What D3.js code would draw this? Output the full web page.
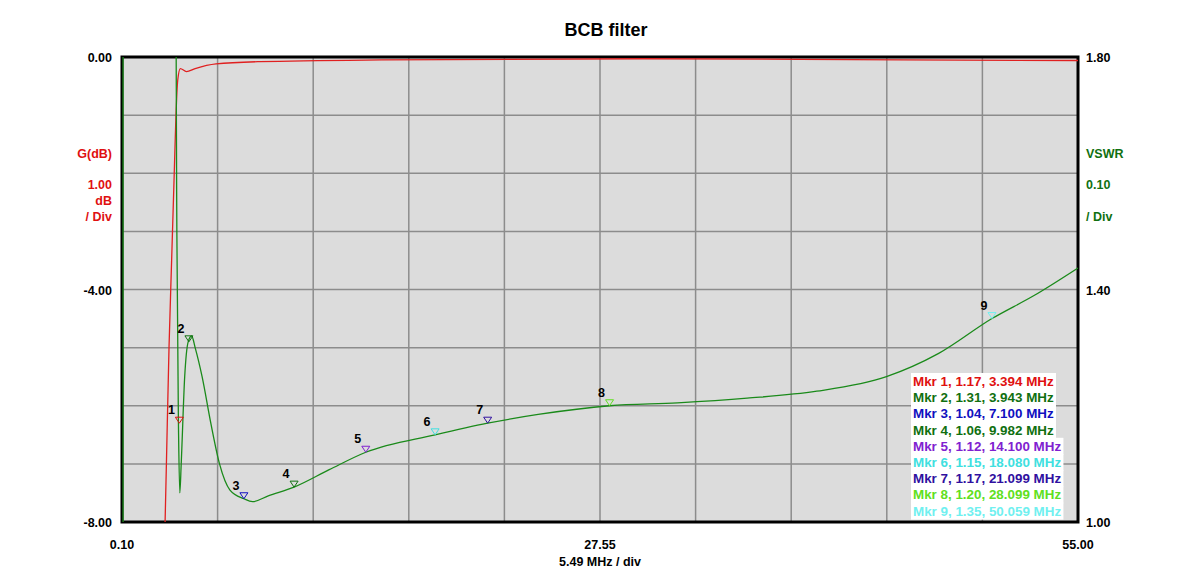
<!DOCTYPE html>
<html><head><meta charset="utf-8">
<script src="https://cdn.jsdelivr.net/npm/d3@7"></script>
<style>body{margin:0;background:#fff}text{font-family:"Liberation Sans",Arial,sans-serif;font-weight:bold}</style>
</head><body><svg id="c" width="1200" height="583"></svg>
<script>
// gain trace (MHz, dB)
const gainData = [[2.5,-9],[2.65,-7],[2.8,-5],[2.95,-3.5],[3.1,-2],[3.2,-1],[3.3,-0.4],[3.45,-0.2],
  [3.8,-0.25],[4.3,-0.2],[5.5,-0.12],[8,-0.08],[15,-0.05],[30,-0.03],[45,-0.05],[55,-0.06]];
// VSWR trace (MHz, ratio)
const vswrEdge = [[0.16,0.9],[0.16,5]];
const vswrData = [[3.1,5],[3.2,1.9],[3.25,1.5],[3.35,1.15],[3.42,1.05],[3.5,1.1],
  [3.7,1.25],[3.9,1.31],[4.1,1.32],[4.3,1.3],[4.7,1.25],[5.2,1.17],[5.7,1.1],[6.3,1.055],[7.1,1.04],[7.6,1.035],
  [8.5,1.045],[9.982,1.06],[12,1.09],[14.1,1.12],[18.08,1.15],[21.099,1.17],[24,1.185],[28.099,1.2],
  [32,1.205],[36,1.213],[40,1.225],[44,1.25],[47,1.29],[50.059,1.35],[52.5,1.39],[55,1.437]];
const markerFreq = [3.394,3.943,7.100,9.982,14.100,18.080,21.099,28.099,50.059];
const markerVswr = [1.17,1.31,1.04,1.06,1.12,1.15,1.17,1.20,1.35];
const markerColors = ["#e01010","#107010","#1010c0","#107010","#8020d0","#40e0e0","#3010a0","#60e020","#70f0f0"];
const xTicks = ["0.10","27.55","55.00"];

const svg = d3.select("#c");
const L=122,R=1078,T=57,B=522;
const x = d3.scaleLinear().domain([0.1,55]).range([L,R]);
const yG = d3.scaleLinear().domain([-8,0]).range([B,T]);
const yV = d3.scaleLinear().domain([1,1.8]).range([B,T]);

svg.append("text").attr("x",606).attr("y",36).attr("text-anchor","middle").attr("font-size",18).text("BCB filter");
svg.append("rect").attr("x",L).attr("y",T).attr("width",R-L).attr("height",B-T).attr("fill","#dcdcdc");
svg.append("clipPath").attr("id","clip").append("rect").attr("x",L).attr("y",T).attr("width",R-L).attr("height",B-T);

const g = svg.append("g");
d3.range(1,10).forEach(i=>{const xx=L+(R-L)*i/10;
  g.append("line").attr("x1",xx).attr("x2",xx).attr("y1",T).attr("y2",B).attr("stroke","#8c8c8c").attr("stroke-width",1.5);});
d3.range(-7,0).forEach(v=>g.append("line").attr("x1",L).attr("x2",R).attr("y1",yG(v)).attr("y2",yG(v)).attr("stroke","#8c8c8c").attr("stroke-width",1.5));
svg.append("rect").attr("x",L).attr("y",T).attr("width",R-L).attr("height",B-T).attr("fill","none").attr("stroke","#000").attr("stroke-width",3);

const clipG = svg.append("g").attr("clip-path","url(#clip)");
clipG.append("path").datum(gainData).attr("fill","none").attr("stroke","#e02020").attr("stroke-width",1.3)
  .attr("d",d3.line().curve(d3.curveMonotoneX).x(d=>x(d[0])).y(d=>yG(d[1])));
clipG.append("path").datum(vswrEdge).attr("fill","none").attr("stroke","#1a8a1a").attr("stroke-width",1.3)
  .attr("d",d3.line().x(d=>x(d[0])).y(d=>yV(d[1])));
clipG.append("path").datum(vswrData).attr("fill","none").attr("stroke","#1a8a1a").attr("stroke-width",1.3)
  .attr("d",d3.line().curve(d3.curveMonotoneX).x(d=>x(d[0])).y(d=>yV(d[1])));

markerFreq.forEach((f,i)=>{
  const mx=x(f), my=yV(markerVswr[i]);
  svg.append("path").attr("d",`M${mx-4},${my-6}L${mx+4},${my-6}L${mx},${my}Z`).attr("fill","none").attr("stroke",markerColors[i]).attr("stroke-width",1);
  svg.append("text").attr("x",mx-8).attr("y",my-9).attr("text-anchor","middle").attr("font-size",12.5).text(i+1);
});

// axis labels
[[0,"0.00"],[-4,"-4.00"],[-8,"-8.00"]].forEach(d=>svg.append("text").attr("x",112).attr("y",yG(d[0])+5).attr("text-anchor","end").attr("font-size",12.5).text(d[1]));
[[1.8,"1.80"],[1.4,"1.40"],[1.0,"1.00"]].forEach(d=>svg.append("text").attr("x",1086).attr("y",yV(d[0])+5).attr("font-size",12.5).text(d[1]));
[["G(dB)",158],["1.00",189],["dB",205],["/ Div",221]].forEach(d=>svg.append("text").attr("x",112).attr("y",d[1]).attr("text-anchor","end").attr("font-size",12.5).attr("fill","#e01010").text(d[0]));
[["VSWR",158],["0.10",189],["/ Div",221]].forEach(d=>svg.append("text").attr("x",1086).attr("y",d[1]).attr("font-size",12.5).attr("fill","#107010").text(d[0]));
xTicks.forEach(t=>svg.append("text").attr("x",x(+t)).attr("y",549).attr("text-anchor","middle").attr("font-size",12.5).text(t));
svg.append("text").attr("x",x(27.55)).attr("y",566).attr("text-anchor","middle").attr("font-size",12.5).text("5.49 MHz / div");

// marker legend
const leg = svg.append("g");
markerFreq.forEach((f,i)=>{
  const yy=386+i*16.2;
  const t=leg.append("text").attr("x",913).attr("y",yy).attr("font-size",13.4).attr("fill",markerColors[i])
    .text(`Mkr ${i+1}, ${markerVswr[i].toFixed(2)}, ${f.toFixed(3)} MHz`);
  const bb=t.node().getBBox();
  leg.insert("rect","text").attr("x",bb.x-2).attr("y",bb.y-1).attr("width",bb.width+4).attr("height",bb.height+2).attr("fill","#fff");
});
</script></body></html>
